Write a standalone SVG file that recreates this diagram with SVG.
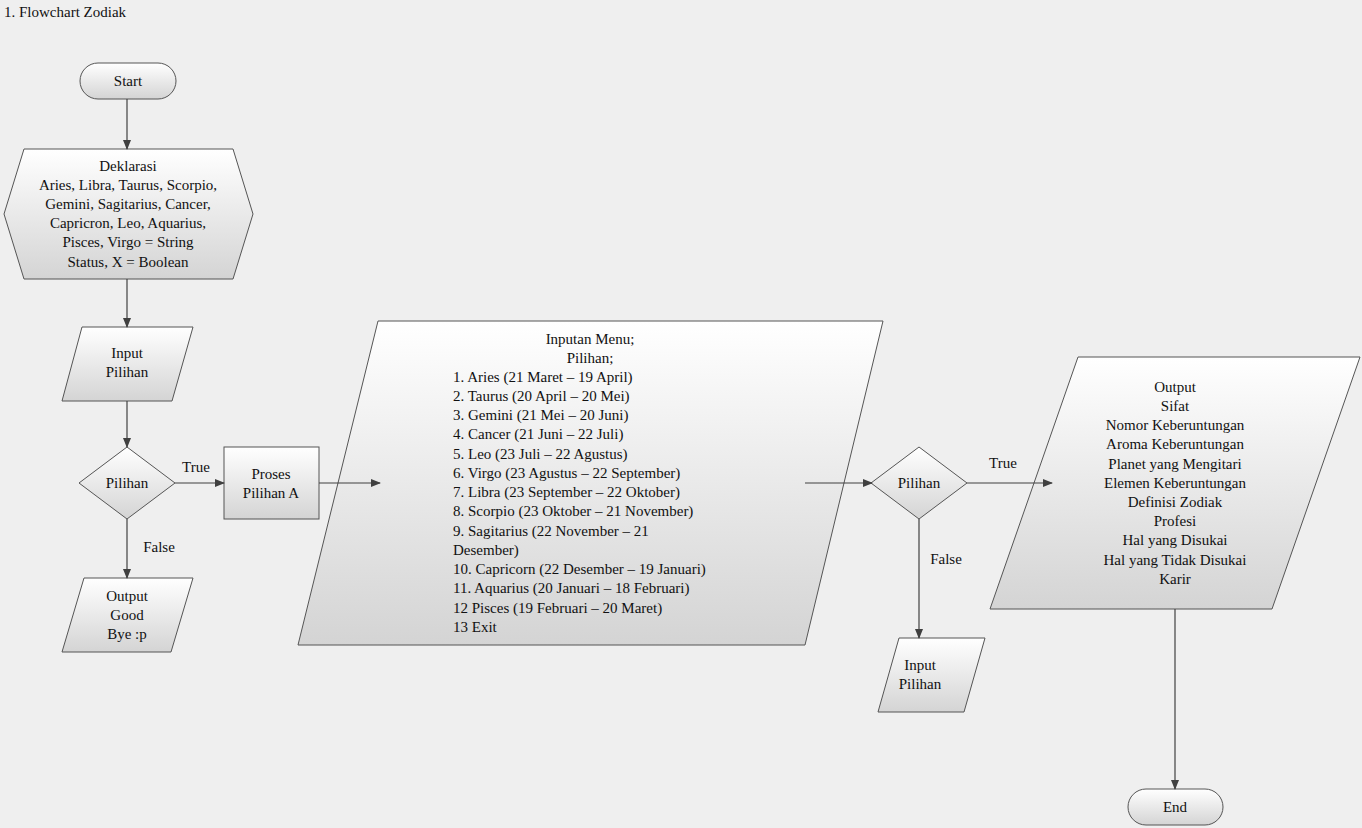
<svg xmlns="http://www.w3.org/2000/svg" width="1362" height="828" viewBox="0 0 1362 828">
<defs>
<linearGradient id="g" x1="0" y1="0" x2="0" y2="1"><stop offset="0" stop-color="#ffffff"/><stop offset="1" stop-color="#d4d4d4"/></linearGradient>
<marker id="a" markerWidth="10" markerHeight="8" refX="9" refY="4" orient="auto" markerUnits="userSpaceOnUse"><path d="M0,0 L10,4 L0,8 z" fill="#404040"/></marker>
</defs>
<style>
text{font-family:"Liberation Serif",serif;font-size:15px;fill:#111}
.c{text-anchor:middle}
.s{fill:url(#g);stroke:#555;stroke-width:1}
.l{stroke:#404040;stroke-width:1.2;fill:none;marker-end:url(#a)}
</style>
<rect width="1362" height="828" fill="#efefef"/>
<text x="4" y="17">1. Flowchart Zodiak</text>
<g id="start"><rect class="s" x="80" y="63" width="96" height="36" rx="18"/><text x="128" y="86" class="c">Start</text></g>
<g id="deklarasi"><polygon class="s" points="24,149 233,149 253,214 233,279 24,279 4,214"/>
<text class="c" x="128"><tspan x="128" y="171">Deklarasi</tspan><tspan x="128" y="190">Aries, Libra, Taurus, Scorpio,</tspan><tspan x="128" y="209">Gemini, Sagitarius, Cancer,</tspan><tspan x="128" y="228">Capricron, Leo, Aquarius,</tspan><tspan x="128" y="247">Pisces, Virgo = String</tspan><tspan x="128" y="267">Status, X = Boolean</tspan></text></g>
<g id="input1"><polygon class="s" points="82,327 193,327 172,401 62,401"/><text class="c"><tspan x="127" y="358">Input</tspan><tspan x="127" y="377">Pilihan</tspan></text></g>
<g id="pilihan1"><polygon class="s" points="127,447 175,483 127,519 79,483"/><text x="127" y="488" class="c">Pilihan</text></g>
<g id="output1"><polygon class="s" points="84,578 193,578 171,652 62,652"/><text class="c"><tspan x="127" y="601">Output</tspan><tspan x="127" y="620">Good</tspan><tspan x="127" y="639">Bye :p</tspan></text></g>
<g id="proses"><rect class="s" x="224" y="447" width="95" height="72"/><text class="c"><tspan x="271" y="479">Proses</tspan><tspan x="271" y="498">Pilihan A</tspan></text></g>
<g id="menu"><polygon class="s" points="378,321 883,321 805,645 298,645"/>
<text class="c"><tspan x="590" y="344">Inputan Menu;</tspan><tspan x="590" y="363">Pilihan;</tspan></text>
<text><tspan x="453" y="382">1. Aries (21 Maret – 19 April)</tspan><tspan x="453" y="401">2. Taurus (20 April – 20 Mei)</tspan><tspan x="453" y="420">3. Gemini (21 Mei – 20 Juni)</tspan><tspan x="453" y="439">4. Cancer (21 Juni – 22 Juli)</tspan><tspan x="453" y="459">5. Leo (23 Juli – 22 Agustus)</tspan><tspan x="453" y="478">6. Virgo (23 Agustus – 22 September)</tspan><tspan x="453" y="497">7. Libra (23 September – 22 Oktober)</tspan><tspan x="453" y="516">8. Scorpio (23 Oktober – 21 November)</tspan><tspan x="453" y="536">9. Sagitarius (22 November – 21</tspan><tspan x="453" y="555">Desember)</tspan><tspan x="453" y="574">10. Capricorn (22 Desember – 19 Januari)</tspan><tspan x="453" y="593">11. Aquarius (20 Januari – 18 Februari)</tspan><tspan x="453" y="613">12 Pisces (19 Februari – 20 Maret)</tspan><tspan x="453" y="632">13 Exit</tspan></text></g>
<g id="pilihan2"><polygon class="s" points="919,447 967,483 919,519 871,483"/><text x="919" y="488" class="c">Pilihan</text></g>
<g id="input2"><polygon class="s" points="899,638 985,638 964,712 878,712"/><text class="c"><tspan x="920" y="670">Input</tspan><tspan x="920" y="689">Pilihan</tspan></text></g>
<g id="output2"><polygon class="s" points="1078,357 1360,357 1272,609 990,609"/>
<text class="c"><tspan x="1175" y="392">Output</tspan><tspan x="1175" y="411">Sifat</tspan><tspan x="1175" y="430">Nomor Keberuntungan</tspan><tspan x="1175" y="449">Aroma Keberuntungan</tspan><tspan x="1175" y="469">Planet yang Mengitari</tspan><tspan x="1175" y="488">Elemen Keberuntungan</tspan><tspan x="1175" y="507">Definisi Zodiak</tspan><tspan x="1175" y="526">Profesi</tspan><tspan x="1175" y="545">Hal yang Disukai</tspan><tspan x="1175" y="565">Hal yang Tidak Disukai</tspan><tspan x="1175" y="584">Karir</tspan></text></g>
<g id="end"><rect class="s" x="1128" y="789" width="95" height="36" rx="18"/><text x="1175" y="812" class="c">End</text></g>
<g id="connectors">
<path class="l" d="M127,99V149"/><path class="l" d="M127,279V327"/><path class="l" d="M127,401V447"/>
<path class="l" d="M175,483H224"/><path class="l" d="M127,519V578"/><path class="l" d="M319,483H380"/>
<path class="l" d="M805,483H872"/><path class="l" d="M967,483H1052"/><path class="l" d="M919,519V638"/>
<path class="l" d="M1175,609V789"/>
<text x="196" y="472" class="c">True</text><text x="159" y="552" class="c">False</text>
<text x="1003" y="468" class="c">True</text><text x="946" y="564" class="c">False</text>
</g>
</svg>
